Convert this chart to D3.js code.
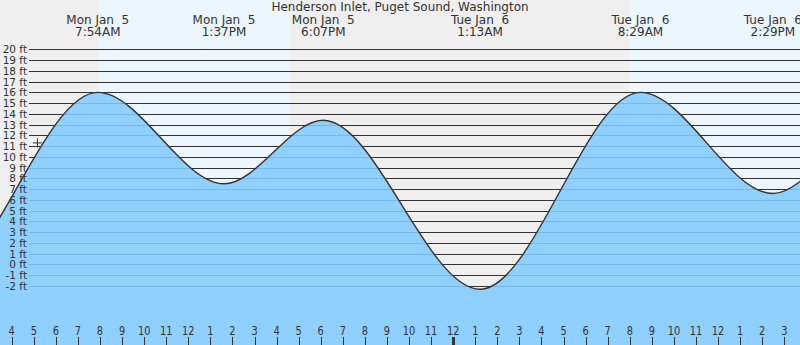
<!DOCTYPE html>
<html><head><meta charset="utf-8">
<script src="https://cdn.jsdelivr.net/npm/d3@7"></script>
<style>html,body{margin:0;padding:0;background:#fff}svg{display:block}text{font-family:"DejaVu Sans",sans-serif;fill:#333;white-space:pre}</style>
</head><body><svg id="c" width="800" height="345"></svg>
<script>
// ---- data ----
const title = "Henderson Inlet, Puget Sound, Washington";
// tide extremes (time, height ft); first and last lie outside the view
const tideTimes = [
  new Date(2026,0,4,18,0), new Date(2026,0,5,0,30), new Date(2026,0,5,7,54),
  new Date(2026,0,5,13,37), new Date(2026,0,5,18,7), new Date(2026,0,6,1,13),
  new Date(2026,0,6,8,29), new Date(2026,0,6,14,29), new Date(2026,0,6,19,5),
  new Date(2026,0,7,1,55)
];
const tideHeights = [13.0, -2.0, 16.0, 7.5, 13.4, -2.3, 16.0, 6.6, 13.0, -2.0];
// labelled extremes (indices into tide arrays) with their captions
const labelIdx = [2,3,4,5,6,7];
const labelDay = ["Mon Jan  5","Mon Jan  5","Mon Jan  5","Tue Jan  6","Tue Jan  6","Tue Jan  6"];
const labelTime = ["7:54AM","1:37PM","6:07PM","1:13AM","8:29AM","2:29PM"];
// daylight intervals
const sunrise = [new Date(2026,0,5,7,57), new Date(2026,0,6,7,58)];
const sunset  = [new Date(2026,0,5,16,37), new Date(2026,0,6,16,38)];
// current time marker
const nowTime = new Date(2026,0,5,5,10), nowHeight = 11.3;
// y ticks
const yTicks = d3.range(-2, 21, 1);

// ---- scales ----
const W = 800, H = 345;
const x = d3.scaleTime().domain([new Date(2026,0,5,4,0), new Date(2026,0,6,15,0)]).range([11.7, 784.3]);
const y = d3.scaleLinear().domain([-2, 20]).range([286, 49.3]);
const svg = d3.select("#c");
const tide = tideTimes.map((t,i)=>({t, h: tideHeights[i]}));

// backgrounds
svg.append("rect").attr("width",W).attr("height",H).attr("fill","#efefef");
svg.selectAll("rect.day").data(sunrise).join("rect").attr("class","day")
  .attr("x", d=>x(d)).attr("width",(d,i)=>x(sunset[i])-x(d)).attr("y",0).attr("height",H)
  .attr("fill","#ebf6ff");

const gy = v => Math.round(y(v)) + 0.5;
// grid lines (dark)
svg.append("g").selectAll("line").data(yTicks).join("line")
  .attr("x1",29).attr("x2",W).attr("y1",gy).attr("y2",gy)
  .attr("stroke","#333").attr("stroke-width",1);

// water
const area = d3.area().x(d=>x(d.t)).y0(H).y1(d=>y(d.h)).curve(d3.curveMonotoneX);
const line = d3.line().x(d=>x(d.t)).y(d=>y(d.h)).curve(d3.curveMonotoneX);
svg.append("clipPath").attr("id","wclip").append("path").attr("d", area(tide));
svg.append("path").attr("d", area(tide)).attr("fill","#8fd0ff");
svg.append("g").attr("clip-path","url(#wclip)").selectAll("line").data(yTicks).join("line")
  .attr("x1",29).attr("x2",W).attr("y1",gy).attr("y2",gy)
  .attr("stroke","#78b8e6").attr("stroke-width",1);
svg.append("path").attr("d", line(tide)).attr("fill","none").attr("stroke","#333").attr("stroke-width",1.4);

// y labels
svg.append("g").selectAll("text").data(yTicks).join("text")
  .attr("x",27).attr("y",d=>y(d)+4).attr("text-anchor","end").style("font-size","10.5px")
  .text(d=>d+" ft");

// title and extreme labels
svg.append("text").attr("x",400).attr("y",11).attr("text-anchor","middle").style("font-size","12px").text(title);
const lg = svg.append("g").selectAll("g").data(labelIdx).join("g");
lg.append("text").attr("x",d=>x(tideTimes[d])).attr("y",24).attr("text-anchor","middle").style("font-size","12px").text((d,i)=>labelDay[i]);
lg.append("text").attr("x",d=>x(tideTimes[d])).attr("y",36).attr("text-anchor","middle").style("font-size","12px").text((d,i)=>labelTime[i]);

// bottom hour axis
const hours = d3.timeHour.range(x.domain()[0], d3.timeMinute.offset(x.domain()[1],1));
const ax = svg.append("g");
ax.selectAll("line").data(hours).join("line")
  .attr("x1",d=>Math.round(x(d))+0.5).attr("x2",d=>Math.round(x(d))+0.5)
  .attr("y1",337).attr("y2",H).attr("stroke","#333")
  .attr("stroke-width",d=>d.getHours()===0?3:1);
ax.selectAll("text").data(hours).join("text")
  .attr("transform",d=>`translate(${x(d)},335) scale(0.82,1)`).attr("text-anchor","middle")
  .style("font-size","12px").text(d=>(d.getHours()%12)||12);

// current time marker
const nx = x(nowTime), ny = y(nowHeight);
svg.append("path").attr("d",`M${nx-4.5},${ny}H${nx+4.5}M${nx},${ny-4.5}V${ny+4.5}`)
  .attr("stroke","#333").attr("stroke-width",1).attr("fill","none");
</script></body></html>
